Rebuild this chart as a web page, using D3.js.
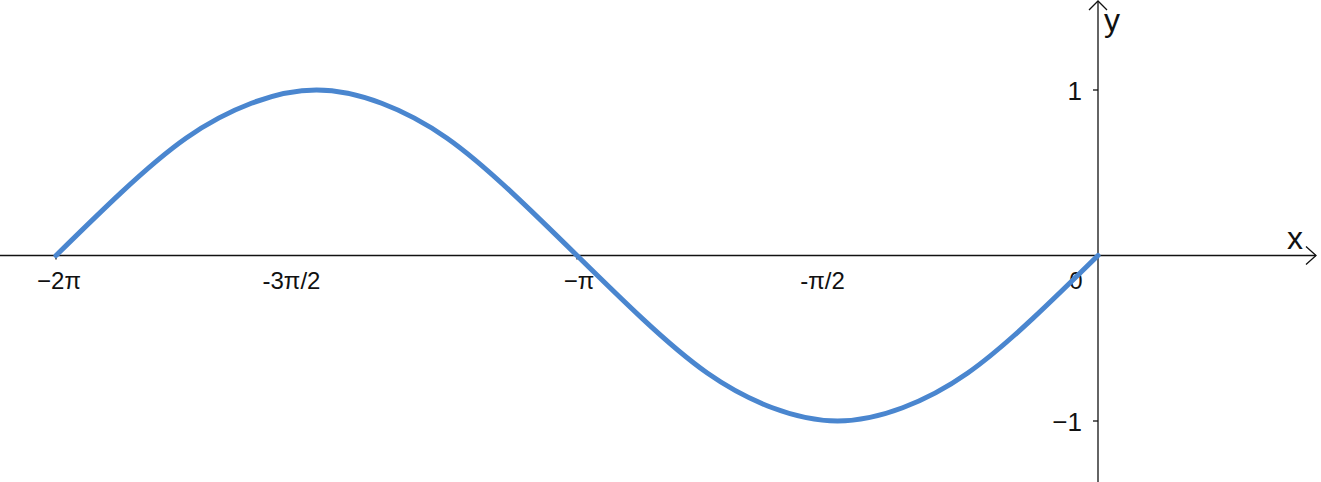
<!DOCTYPE html>
<html>
<head>
<meta charset="utf-8">
<script src="https://cdn.jsdelivr.net/npm/d3@7"></script>
<style>
  html, body { margin: 0; padding: 0; background: #fff; }
  svg { display: block; }
  text { font-family: "Liberation Sans", Arial, sans-serif; fill: #111; }
</style>
</head>
<body>
<div id="chart"></div>
<script>
// x positions in multiples of π, y
const xsPi = [-2, -1.875, -1.75, -1.625, -1.5, -1.375, -1.25, -1.125, -1,
              -0.875, -0.75, -0.625, -0.5, -0.375, -0.25, -0.125, 0];
const ys = [0, 0.38, 0.71, 0.92, 1, 0.92, 0.71, 0.38, 0,
            -0.38, -0.71, -0.92, -1, -0.92, -0.71, -0.38, 0];

// x tick labels
const xTickVals = [-2, -1.5, -1, -0.5];
const xTickLabels = ['\u22122\u03c0', '-3\u03c0/2', '\u2212\u03c0', '-\u03c0/2'];
const yTickVals = [1, -1];
const yTickLabels = ['1', '\u22121'];

const W = 1321, H = 482;

const x = d3.scaleLinear().domain([-2, 0]).range([56, 1098]);
const y = d3.scaleLinear().domain([-1, 1]).range([421, 90]);

const svg = d3.select('#chart').append('svg')
  .attr('width', W).attr('height', H);

const x0 = x(0), y0 = y(0);

// axes
svg.append('line')
  .attr('x1', 0).attr('x2', 1316).attr('y1', y0).attr('y2', y0)
  .attr('stroke', '#111').attr('stroke-width', 1.3);
svg.append('line')
  .attr('x1', x0).attr('x2', x0).attr('y1', 1).attr('y2', H)
  .attr('stroke', '#111').attr('stroke-width', 1.3);

// open arrowheads
svg.append('path')
  .attr('d', `M${1306},${y0 - 9} L${1316},${y0} L${1306},${y0 + 9}`)
  .attr('fill', 'none').attr('stroke', '#111').attr('stroke-width', 1.3);
svg.append('path')
  .attr('d', `M${x0 - 9},${10} L${x0},${1} L${x0 + 9},${10}`)
  .attr('fill', 'none').attr('stroke', '#111').attr('stroke-width', 1.3);

// small ticks on x at integer multiples of π
svg.selectAll('.xt')
  .data([-2, -1])
  .join('line')
  .attr('x1', d => x(d)).attr('x2', d => x(d))
  .attr('y1', y0).attr('y2', y0 + 4)
  .attr('stroke', '#111').attr('stroke-width', 1.3);

// ticks on y
svg.selectAll('.yt')
  .data(yTickVals)
  .join('line')
  .attr('x1', x0 - 5).attr('x2', x0)
  .attr('y1', d => y(d)).attr('y2', d => y(d))
  .attr('stroke', '#111').attr('stroke-width', 1.3);

// x labels
const xLabelDx = [3, -25, 2, -15];
svg.selectAll('.xl')
  .data(xTickVals)
  .join('text')
  .attr('x', (d, i) => x(d) + xLabelDx[i])
  .attr('y', y0 + 33)
  .attr('text-anchor', 'middle')
  .attr('font-size', 24)
  .text((d, i) => xTickLabels[i]);

svg.append('text')
  .attr('x', x0 - 22).attr('y', y0 + 33)
  .attr('text-anchor', 'middle')
  .attr('font-size', 24)
  .text('0');

// y labels
svg.selectAll('.yl')
  .data(yTickVals)
  .join('text')
  .attr('x', x0 - 16)
  .attr('y', d => y(d) + 10)
  .attr('text-anchor', 'end')
  .attr('font-size', 26)
  .text((d, i) => yTickLabels[i]);

// axis names
svg.append('text')
  .attr('x', 1287).attr('y', y0 - 7)
  .attr('font-size', 32)
  .text('x');
svg.append('text')
  .attr('x', 1104).attr('y', 31)
  .attr('font-size', 32)
  .text('y');

// curve
const pts = xsPi.map((v, i) => [v, ys[i]]);
const line = d3.line()
  .x(d => x(d[0]))
  .y(d => y(d[1]))
  .curve(d3.curveNatural);

svg.append('path')
  .datum(pts)
  .attr('d', line)
  .attr('fill', 'none')
  .attr('stroke', '#4a86cf')
  .attr('stroke-width', 5)
  .attr('stroke-linecap', 'round');
</script>
</body>
</html>
